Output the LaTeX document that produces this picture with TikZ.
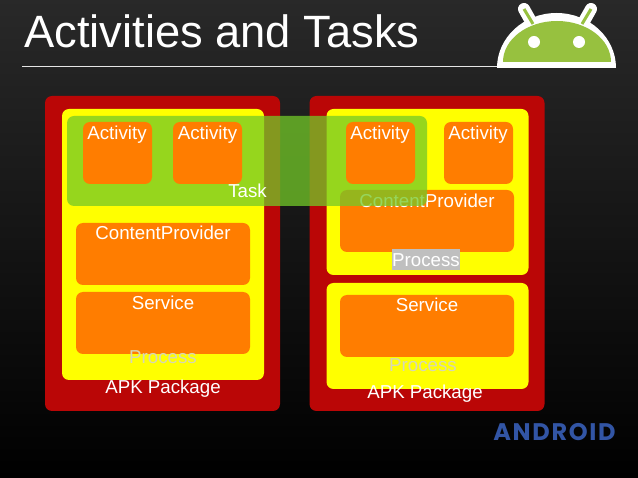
\documentclass[tikz,border=0pt]{standalone}
\usepackage{fontspec}
\usepackage{xcolor}
\usepackage{tikz}
\setmainfont{Liberation Sans}
\newfontfamily\logofont[LetterSpace=7]{Poppins}
\definecolor{pkgred}{RGB}{186,6,6}
\definecolor{procyellow}{RGB}{255,255,0}
\definecolor{comporange}{RGB}{255,125,0}
\definecolor{taskgreen}{RGB}{115,201,40}
\definecolor{robotgreen}{RGB}{151,193,63}
\definecolor{logoblue}{RGB}{50,85,165}
\definecolor{dimtext}{RGB}{214,214,184}

\begin{document}
\begin{tikzpicture}[
    x=1pt, y=-1pt,
    pkgbox/.style={rectangle, fill=pkgred, rounded corners=7pt, inner sep=0pt,
                   minimum width=235pt, minimum height=315pt},
    procbox/.style={rectangle, fill=procyellow, rounded corners=7pt, inner sep=0pt,
                    minimum width=202pt},
    compbox/.style={rectangle, fill=comporange, rounded corners=7pt, inner sep=0pt,
                    minimum width=174pt, minimum height=62pt},
    actbox/.style={compbox, minimum width=69pt},
    taskbox/.style={rectangle, fill=taskgreen, fill opacity=.75, rounded corners=7pt,
                    inner sep=0pt, minimum width=360pt, minimum height=90pt},
    lbl/.style={anchor=base, inner sep=0pt, text=white, font=\fontsize{18.7}{20}\selectfont},
    dimlbl/.style={lbl, text=dimtext}
  ]
  \useasboundingbox (0,0) rectangle (638,478);
  \shade[top color=black!84!white, bottom color=black] (0,0) rectangle (638,478);

  % title
  \node[anchor=base west, inner sep=0pt, text=white, font=\fontsize{45.3}{48}\selectfont]
    (title) at (24,48) {Activities and Tasks};
  \coordinate (rulea) at (22,67);
  \coordinate (ruleb) at (500,67);
  \draw[white!90!black, line width=1pt] (rulea) -- (ruleb);

  % packages
  \node[pkgbox] (pkga) at (162.5,253.5) {};
  \node[pkgbox] (pkgb) at (427,253.5) {};
  \node[procbox, minimum height=271pt] (proca) at (163,244.5) {};
  \node[procbox, minimum height=166pt] (procb) at (427.5,192) {};
  \node[procbox, minimum height=106pt] (procc) at (427.5,336) {};

  % the provider on the right lies under the task
  \node[compbox] (cpb) at (427,221) {};
  \node[lbl] (cpbl) at (427,208) {ContentProvider};
  \node[taskbox] (task) at (247,161) {};
  \node[lbl] (taskl) at (247.5,198) {Task};

  \node[actbox] (acta) at (117.5,153) {};
  \node[actbox] (actb) at (207.5,153) {};
  \node[actbox] (actc) at (380.5,153) {};
  \node[actbox] (actd) at (478.5,153) {};
  \node[lbl] (actal) at (117,139.5) {Activity};
  \node[lbl] (actbl) at (207.5,139.5) {Activity};
  \node[lbl] (actcl) at (380,139.5) {Activity};
  \node[lbl] (actdl) at (478,139.5) {Activity};

  \node[compbox] (cpa) at (163,254) {};
  \node[compbox] (sva) at (163,323) {};
  \node[compbox] (svb) at (427,326) {};
  \node[lbl] (cpal) at (163,240) {ContentProvider};
  \node[lbl] (sval) at (163,310) {Service};
  \node[lbl] (svbl) at (427,312) {Service};

  \node[dimlbl] (prcal) at (163,363.5) {Process};
  \node[dimlbl] (prccl) at (423,371.5) {Process};
  \node[lbl, fill=black!25, text height=17.5pt, text depth=4pt, minimum width=68pt]
    (prcbl) at (426,266.5) {Process};
  \node[lbl] (apkal) at (163,394) {APK Package};
  \node[lbl] (apkbl) at (425,399) {APK Package};

  % robot head
  \draw[white, line width=12pt, line cap=round] (533,25) -- (524,9) (582,25) -- (591,9);
  \fill[white] (497,68) arc[start angle=180, end angle=360, x radius=59.5, y radius=55] -- cycle;
  \fill[robotgreen] (503,62) arc[start angle=180, end angle=360, x radius=54, y radius=41] -- cycle;
  \draw[robotgreen, line width=3pt] (533,24) -- (524,9) (582,24) -- (591,9);
  \fill[white] (534,42) circle[radius=6] (579,42) circle[radius=6];

  % logo
  \node[anchor=base, inner sep=0pt, text=logoblue, font=\logofont\bfseries\fontsize{24}{24}\selectfont]
    (logo) at (554.5,441) {ANDROID};
\end{tikzpicture}
\end{document}
